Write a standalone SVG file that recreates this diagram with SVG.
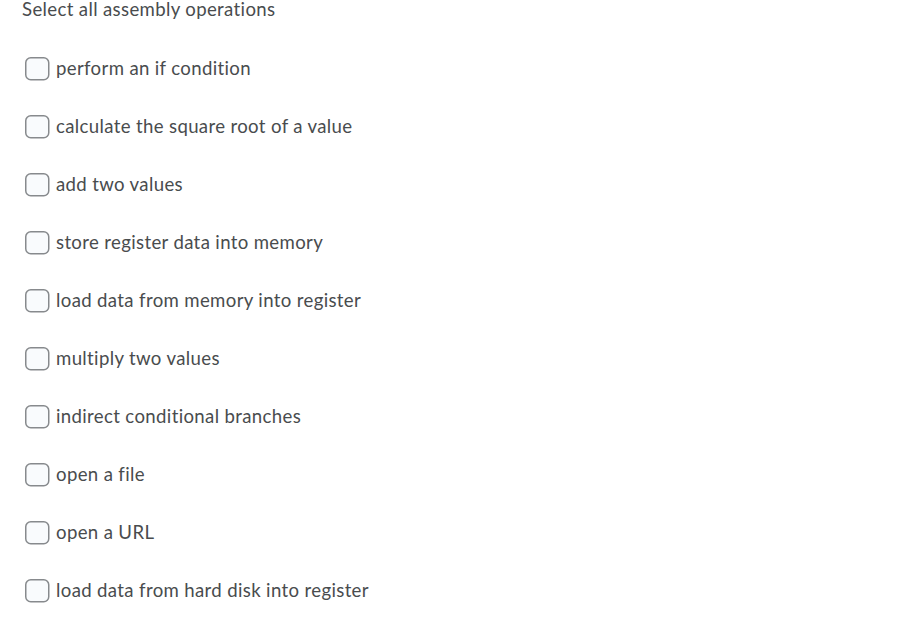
<svg xmlns="http://www.w3.org/2000/svg" width="908" height="638" viewBox="0 0 908 638">
<style>
text{font-family:Lato,"Liberation Sans",sans-serif;font-size:18.6px;letter-spacing:0.35px;font-variant-ligatures:none;fill:#494c4e}
.cb{fill:#f9fbfd;stroke:#878a8d;stroke-width:1.5}
</style>
<rect width="908" height="638" fill="#fff"/>
<text x="22" y="15.5">Select all assembly operations</text>
<g id="o1"><rect class="cb" x="25.75" y="57.75" width="23" height="22" rx="5"/><text x="56" y="75">perform an if condition</text></g>
<g id="o2" transform="translate(0,58)"><rect class="cb" x="25.75" y="57.75" width="23" height="22" rx="5"/><text x="56" y="75">calculate the square root of a value</text></g>
<g id="o3" transform="translate(0,116)"><rect class="cb" x="25.75" y="57.75" width="23" height="22" rx="5"/><text x="56" y="75">add two values</text></g>
<g id="o4" transform="translate(0,174)"><rect class="cb" x="25.75" y="57.75" width="23" height="22" rx="5"/><text x="56" y="75">store register data into memory</text></g>
<g id="o5" transform="translate(0,232)"><rect class="cb" x="25.75" y="57.75" width="23" height="22" rx="5"/><text x="56" y="75">load data from memory into register</text></g>
<g id="o6" transform="translate(0,290)"><rect class="cb" x="25.75" y="57.75" width="23" height="22" rx="5"/><text x="56" y="75">multiply two values</text></g>
<g id="o7" transform="translate(0,348)"><rect class="cb" x="25.75" y="57.75" width="23" height="22" rx="5"/><text x="56" y="75">indirect conditional branches</text></g>
<g id="o8" transform="translate(0,406)"><rect class="cb" x="25.75" y="57.75" width="23" height="22" rx="5"/><text x="56" y="75">open a file</text></g>
<g id="o9" transform="translate(0,464)"><rect class="cb" x="25.75" y="57.75" width="23" height="22" rx="5"/><text x="56" y="75">open a URL</text></g>
<g id="o10" transform="translate(0,522)"><rect class="cb" x="25.75" y="57.75" width="23" height="22" rx="5"/><text x="56" y="75">load data from hard disk into register</text></g>
<g id="connectors"/>
</svg>
